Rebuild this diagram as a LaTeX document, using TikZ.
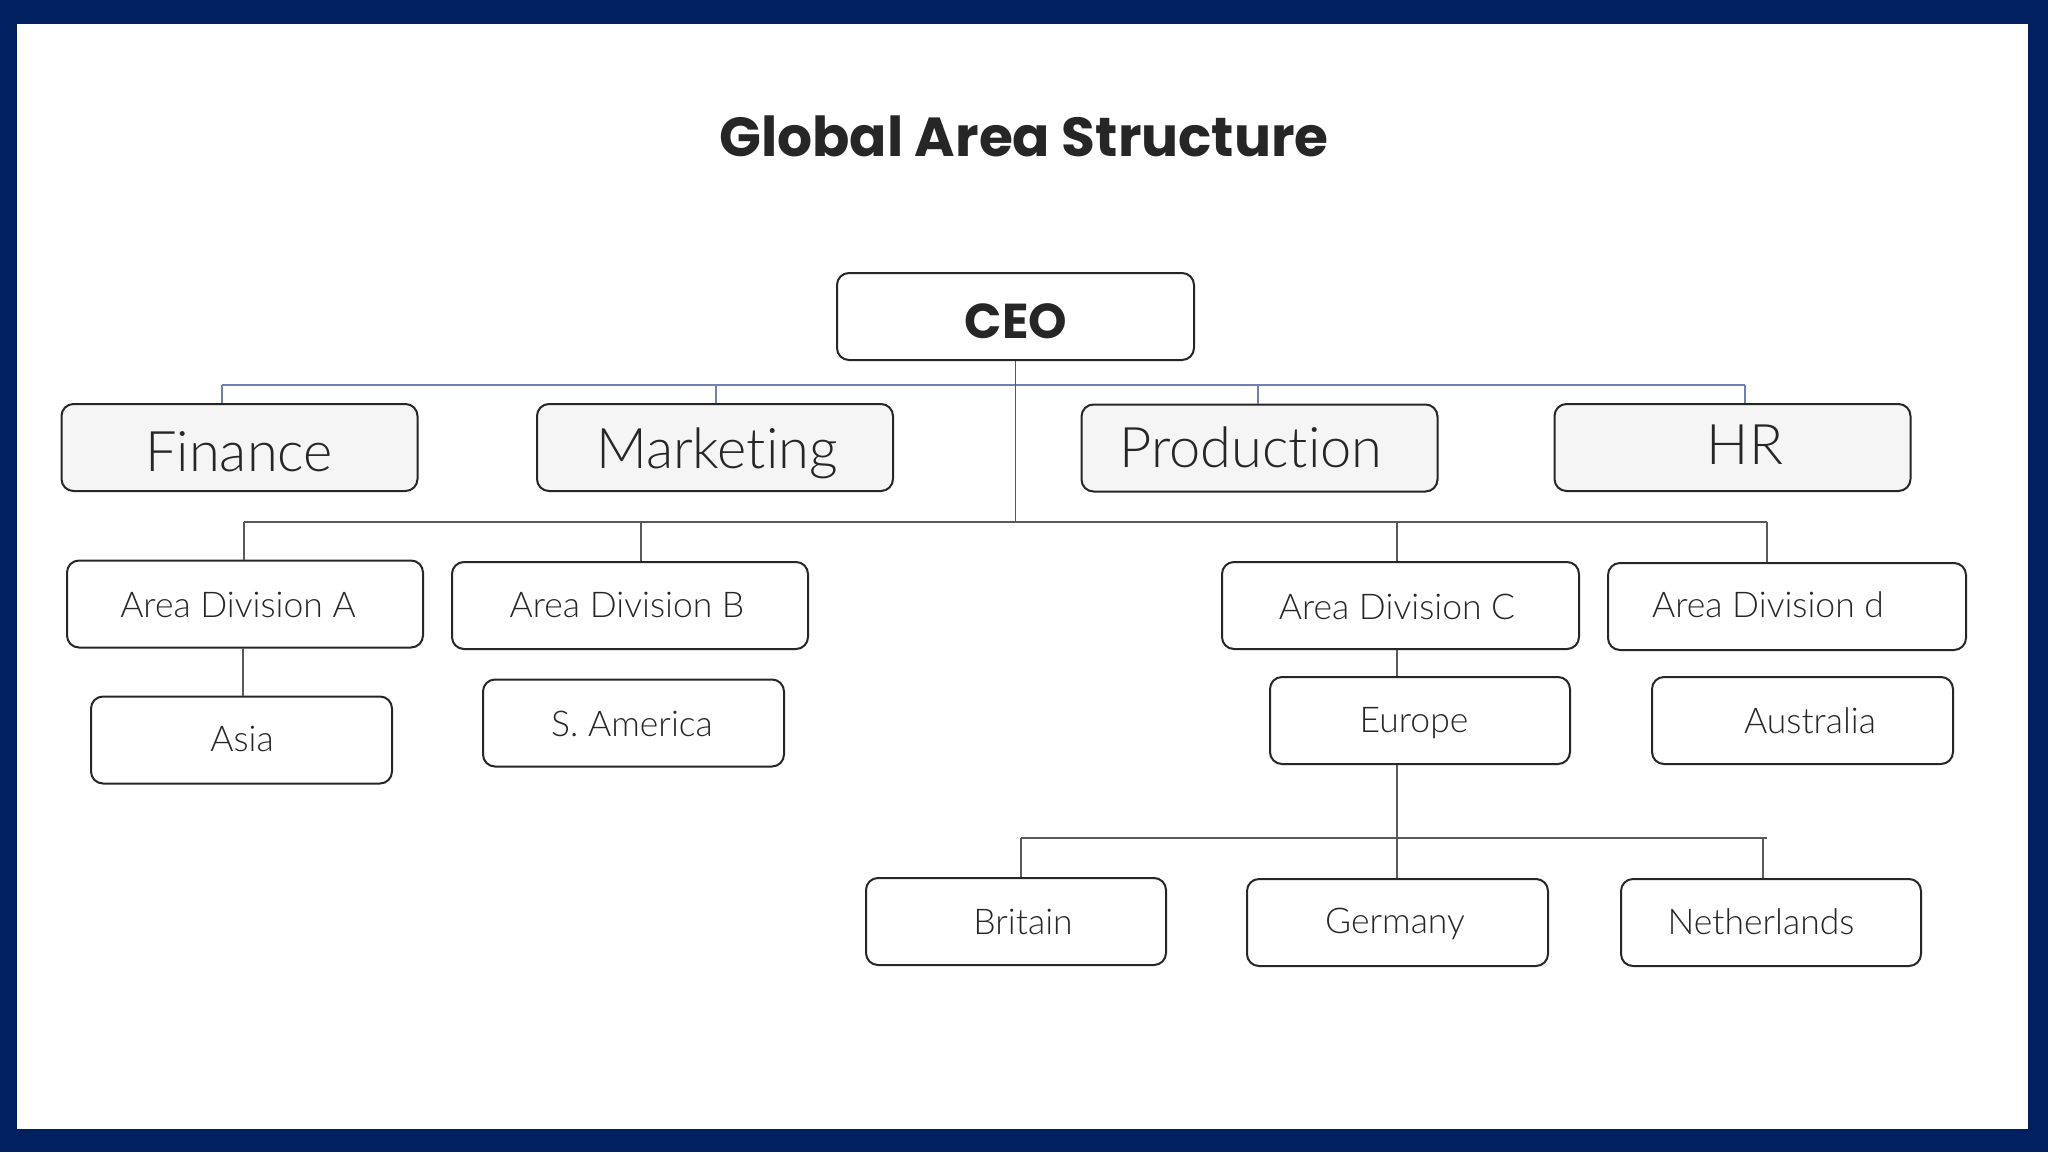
\documentclass[tikz,border=0pt]{standalone}
\usepackage{fontspec}
\setmainfont{Lato}[UprightFont=* Light, Ligatures=NoCommon]
\newfontfamily\titlefont{Poppins}
\begin{document}
\begin{tikzpicture}[x=1pt,y=-1pt,
  box/.style={draw=black!85, line width=2pt, rounded corners=12pt, minimum width=#1, minimum height=87pt, inner sep=0pt, fill=white},
  box/.default=356pt,
  dbox/.style={box, fill=gray!8},
  lbl/.style={inner sep=0pt, text=black!85, text height=25.5pt, text depth=0pt, font=\fontsize{35.5}{42}\selectfont},
  blbl/.style={inner sep=0pt, text=black!85, text height=40pt, text depth=0pt, font=\fontsize{56}{64}\selectfont},
  gline/.style={draw=black!65, line width=1.4pt},
  bline/.style={draw={rgb,255:red,112;green,128;blue,176}, line width=1.4pt}]
\definecolor{navy}{RGB}{0,32,96}
\useasboundingbox (0,0) rectangle (2048,1152);
\fill[navy] (0,0) rectangle (2048,1152);
\fill[white] (17,24) rectangle (2028,1129);
\node[inner sep=0pt, text=black!85, font=\titlefont\bfseries\fontsize{55}{64}\selectfont] (title) at (1024,136) {Global Area Structure};
% CEO
\node[box=357pt] (ceo) at (1015.5,316.5) {};
\node[inner sep=0pt, text=black!85, text height=34pt, text depth=0pt, font=\titlefont\bfseries\fontsize{49}{56}\selectfont] (ceot) at (1016,321) {CEO};
% departments
\node[dbox=357pt] (fin) at (239.5,447.5) {};
\node[blbl] (fint) at (239,451) {Finance};
\node[dbox=357pt] (mkt) at (715,447.5) {};
\node[blbl] (mktt) at (717,448) {Marketing};
\node[dbox=357pt] (prd) at (1259.5,448) {};
\node[blbl] (prdt) at (1251,447) {Production};
\node[dbox=357pt] (hr) at (1732.5,447.5) {};
\node[blbl] (hrt) at (1745,444) {HR};
% divisions
\node[box=356pt] (ada) at (245,604) {};
\node[lbl] (adat) at (238,605) {Area Division A};
\node[box=356pt] (adb) at (630,605.5) {};
\node[lbl] (adbt) at (627,605) {Area Division B};
\node[box=357pt] (adc) at (1400.5,605.5) {};
\node[lbl] (adct) at (1397,607) {Area Division C};
\node[box=358pt] (add) at (1787,606.5) {};
\node[lbl] (addt) at (1768,605) {Area Division d};
% regions
\node[box=301pt] (asia) at (241.5,740) {};
\node[lbl] (asiat) at (242,739) {Asia};
\node[box=301pt] (sam) at (633.5,723) {};
\node[lbl] (samt) at (632,724) {S. America};
\node[box=300pt] (eur) at (1420,720.5) {};
\node[lbl] (eurt) at (1414,720) {Europe};
\node[box=301pt] (aus) at (1802.5,720.5) {};
\node[lbl] (aust) at (1810,721) {Australia};
% countries
\node[box=300pt] (bri) at (1016,921.5) {};
\node[lbl] (brit) at (1023,922) {Britain};
\node[box=301pt] (ger) at (1397.5,922.5) {};
\node[lbl] (gert) at (1395,921) {Germany};
\node[box=300pt] (net) at (1771,922.5) {};
\node[lbl] (nett) at (1761,922) {Netherlands};
% bus coordinates
\coordinate (bL) at (222,385);
\coordinate (bR) at (1745,385);
\coordinate (gL) at (244,522);
\coordinate (gC) at (1015.5,522);
\coordinate (gR) at (1767,522);
\coordinate (eC) at (1397,838);
\coordinate (eL) at (1021,838);
\coordinate (eR) at (1767,838);
% blue bus to departments
\draw[bline] (bL) -- (bR);
\draw[bline] (bL) -- (bL |- fin.north);
\draw[bline] (716,385) coordinate (bM) -- (bM |- mkt.north);
\draw[bline] (1258,385) coordinate (bP) -- (bP |- prd.north);
\draw[bline] (bR) -- (bR |- hr.north);
% gray bus to divisions
\draw[gline] (ceo.south) -- (gC);
\draw[gline] (gL) -- (gR);
\draw[gline] (gL) -- (gL |- ada.north);
\draw[gline] (641,522) coordinate (gB) -- (gB |- adb.north);
\draw[gline] (1397,522) coordinate (gCc) -- (gCc |- adc.north);
\draw[gline] (gR) -- (gR |- add.north);
\draw[gline] (243,648) coordinate (aA) -- (aA |- asia.north);
\draw[gline] (adc.south -| eC) -- (eur.north -| eC);
\draw[gline] (eur.south -| eC) -- (eC);
\draw[gline] (eL) -- (eR);
\draw[gline] (eL) -- (eL |- bri.north);
\draw[gline] (eC) -- (eC |- ger.north);
\draw[gline] (1763,838) coordinate (eN) -- (eN |- net.north);
\end{tikzpicture}
\end{document}
